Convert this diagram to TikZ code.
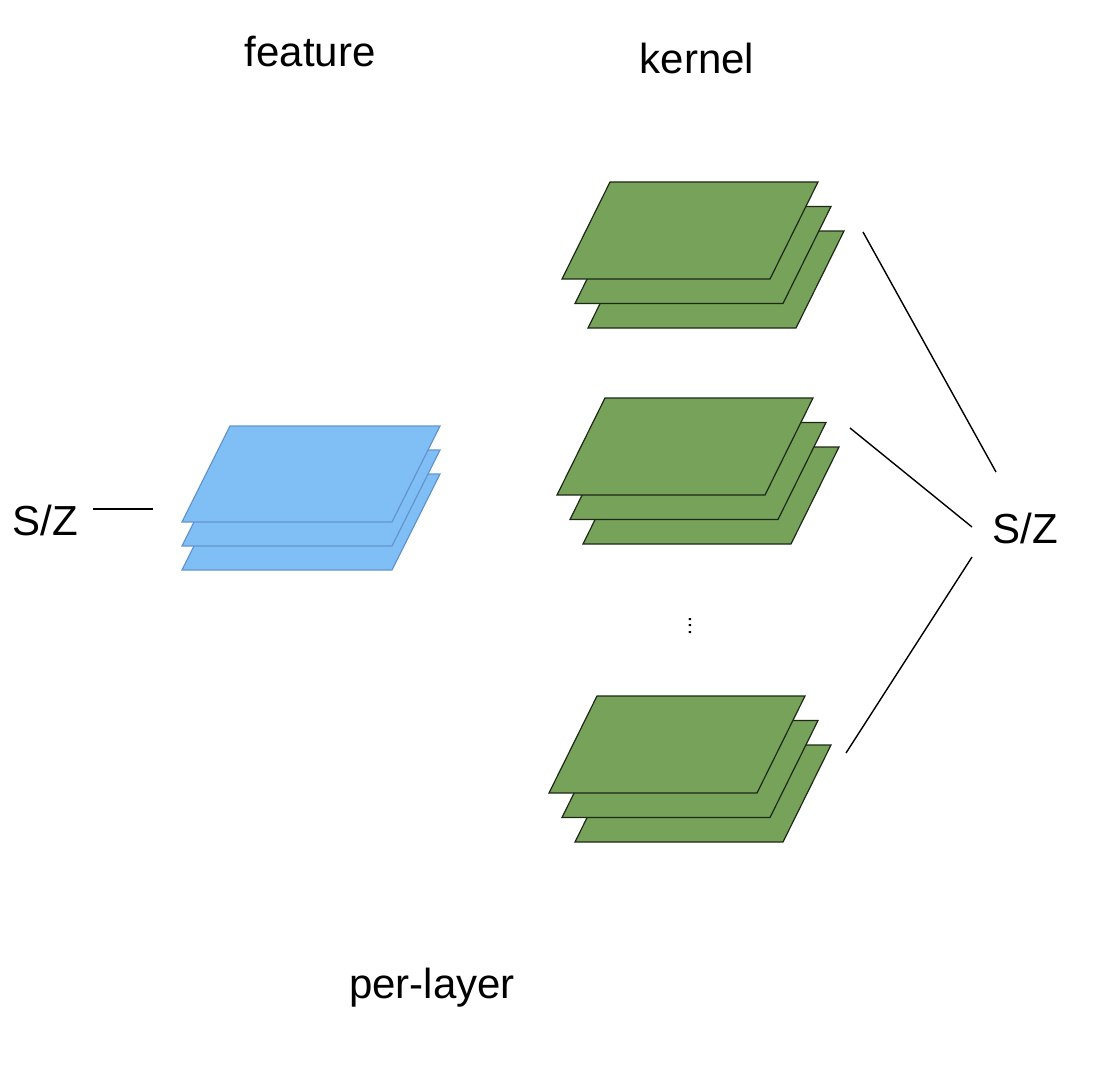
\documentclass[tikz,border=0pt]{standalone}
\usepackage{fontspec}
\setmainfont{Liberation Sans}
\begin{document}
\begin{tikzpicture}[x=1pt,y=-1pt,
  lbl/.style={font=\fontsize{42}{48}\selectfont,inner sep=0},
  bluel/.style={fill={rgb,255:red,128;green,191;blue,245},draw={rgb,255:red,100;green,150;blue,205},line width=1.2pt},
  greenl/.style={fill={rgb,255:red,118;green,163;blue,89},draw={rgb,255:red,30;green,40;blue,25},line width=1.2pt},
  conn/.style={line width=1.4pt}]
\useasboundingbox (0,0) rectangle (1108,1086);
% blue
\foreach \d in {48,24,0}{\draw[bluel] (182,522+\d) -- (230,426+\d) -- (440,426+\d) -- (392,522+\d) -- cycle;}
% green stacks
\foreach \x/\y in {562/279,557/495,549/793}{
  \foreach \i in {2,1,0}{\draw[greenl] (\x+13*\i,\y+24.5*\i) -- ++(48,-97) -- ++(208,0) -- ++(-48,97) -- cycle;}
}
\node[lbl] (f) at (310,52) {feature};
\node[lbl] (k) at (697,58) {kernel};
\node[lbl] (p) at (432,988) {per-layer};
\node[lbl] (sl) at (45,520) {S/Z};
\node[lbl] (sr) at (1025,528) {S/Z};
\node[font=\fontsize{22}{24}\selectfont,inner sep=0,rotate=-90] (dots) at (690,626) {...};
\coordinate (l1) at (93,509); \coordinate (l2) at (153,509);
\draw[conn] (l1) -- (l2);
\coordinate (a1) at (863,232); \coordinate (a2) at (996,472);
\coordinate (b1) at (850,428); \coordinate (b2) at (972,527);
\coordinate (c1) at (846,753); \coordinate (c2) at (972,557);
\draw[conn] (a1) -- (a2);
\draw[conn] (b1) -- (b2);
\draw[conn] (c2) -- (c1);
\end{tikzpicture}
\end{document}
